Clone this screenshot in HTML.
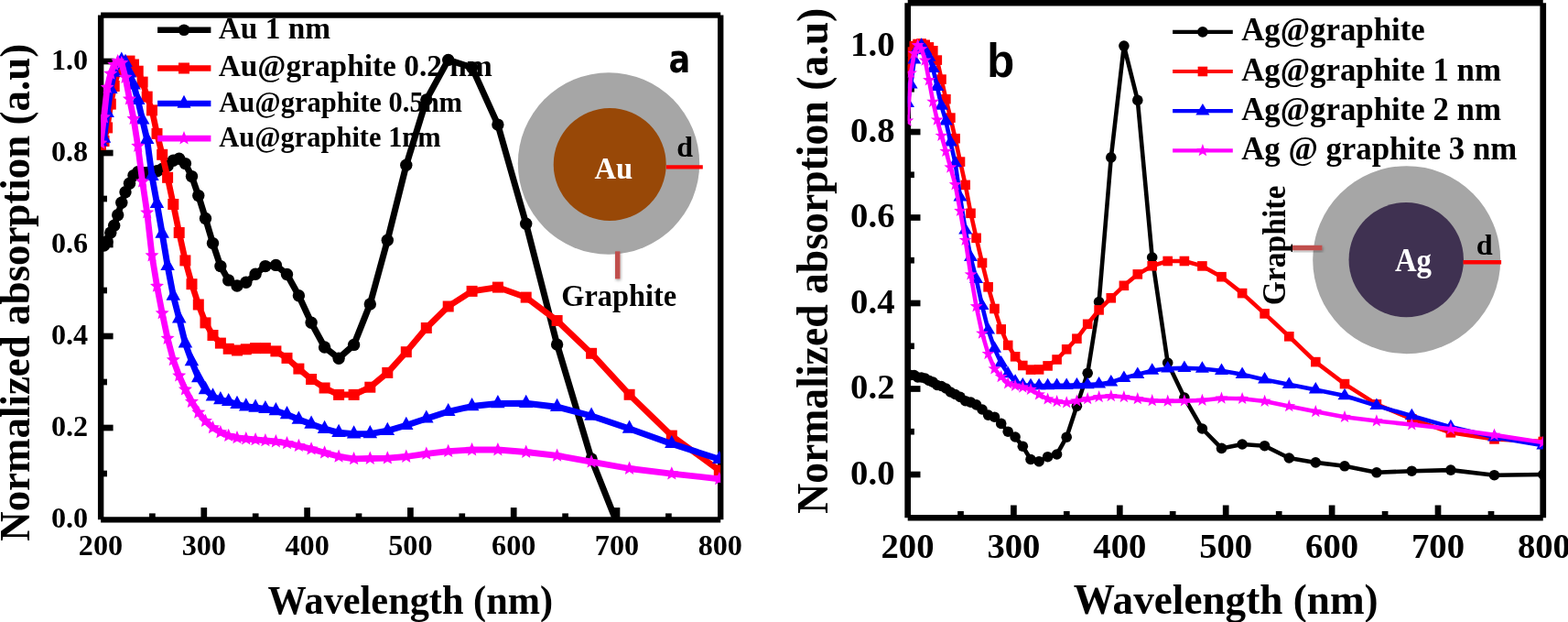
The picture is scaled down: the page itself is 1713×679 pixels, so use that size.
<!DOCTYPE html>
<html><head><meta charset="utf-8"><title>Absorption spectra</title>
<style>html,body{margin:0;padding:0;background:#fff;overflow:hidden}svg{display:block}</style></head>
<body><svg width="1713" height="679" viewBox="0 0 1713 679">
<rect width="1713" height="679" fill="#fff"/>
<clipPath id="ca"><rect x="110.15" y="16.6" width="677.0500000000001" height="550.75"/></clipPath>
<clipPath id="cb"><rect x="991.7" y="3.25" width="694.05" height="562.0"/></clipPath>
<circle cx="665" cy="178.5" r="99.2" fill="#A6A6A6"/>
<circle cx="666.2" cy="179.5" r="61.5" fill="#984807"/>
<line x1="727.8" y1="182.4" x2="767.8" y2="182.4" stroke="#FF0000" stroke-width="4.3"/>
<filter id="sh" x="-50%" y="-50%" width="200%" height="200%"><feDropShadow dx="0.8" dy="1.6" stdDeviation="1.4" flood-color="#000" flood-opacity="0.35"/></filter>
<rect x="672.0" y="274.4" width="5.4" height="30" fill="#C0504D" filter="url(#sh)"/>
<text transform="translate(649.46,194.60) scale(0.9550,1)" font-family="'Liberation Serif','Times New Roman',serif" font-weight="bold" font-size="34.2" fill="#fff" text-anchor="start">Au</text>
<text transform="translate(739.20,170.60)" font-family="'Liberation Serif','Times New Roman',serif" font-weight="bold" font-size="32" fill="#000" text-anchor="start">d</text>
<text transform="translate(613.20,333.90) scale(0.9480,1)" font-family="'Liberation Serif','Times New Roman',serif" font-weight="bold" font-size="34.2" fill="#000" text-anchor="start">Graphite</text>
<text transform="translate(730.40,79.00) scale(0.8260,1)" font-family="'DejaVu Sans',sans-serif" font-weight="bold" font-size="42.6" fill="#000" text-anchor="start">a</text>
<circle cx="1536.7" cy="283.65" r="102.5" fill="#A6A6A6"/>
<circle cx="1536.25" cy="283.6" r="62.7" fill="#3F3151"/>
<line x1="1598.5" y1="286.2" x2="1640.1" y2="286.2" stroke="#FF0000" stroke-width="4.4"/>
<rect x="1410.5" y="267.8" width="33.9" height="5.4" fill="#C0504D" filter="url(#sh)"/>
<text transform="translate(1523.97,296.00) scale(0.9100,1)" font-family="'Liberation Serif','Times New Roman',serif" font-weight="bold" font-size="36" fill="#fff" text-anchor="start">Ag</text>
<text transform="translate(1612.70,278.40)" font-family="'Liberation Serif','Times New Roman',serif" font-weight="bold" font-size="32.3" fill="#000" text-anchor="start">d</text>
<text transform="translate(1403.80,333.20) rotate(-90) scale(0.9460,1)" font-family="'Liberation Serif','Times New Roman',serif" font-weight="bold" font-size="35.5" fill="#000" text-anchor="start">Graphite</text>
<text transform="translate(1078.20,83.60) scale(0.9400,1)" font-family="'Liberation Sans',Arial,sans-serif" font-weight="bold" font-size="52.2" fill="#000" text-anchor="start">b</text>
<path d="M110.15,16.6H787.2M110.15,567.35H787.2M110.15,16.6V567.35M787.2,16.6V567.35" fill="none" stroke="#000" stroke-width="6.4" stroke-linecap="butt"/><path d="M991.7,3.25H1685.75M991.7,565.25H1685.75M991.7,3.25V565.25M1685.75,3.25V565.25" fill="none" stroke="#000" stroke-width="6.7" stroke-linecap="butt"/><line x1="166.4" y1="567.35" x2="166.4" y2="560.4" stroke="#000" stroke-width="6.7"/><line x1="1049.5" y1="565.25" x2="1049.5" y2="558.0" stroke="#000" stroke-width="6.7"/><line x1="222.8" y1="567.35" x2="222.8" y2="554.1" stroke="#000" stroke-width="6.7"/><line x1="1107.4" y1="565.25" x2="1107.4" y2="551.5" stroke="#000" stroke-width="6.7"/><line x1="279.2" y1="567.35" x2="279.2" y2="560.4" stroke="#000" stroke-width="6.7"/><line x1="1165.3" y1="565.25" x2="1165.3" y2="558.0" stroke="#000" stroke-width="6.7"/><line x1="335.6" y1="567.35" x2="335.6" y2="554.1" stroke="#000" stroke-width="6.7"/><line x1="1223.3" y1="565.25" x2="1223.3" y2="551.5" stroke="#000" stroke-width="6.7"/><line x1="392.0" y1="567.35" x2="392.0" y2="560.4" stroke="#000" stroke-width="6.7"/><line x1="1281.2" y1="565.25" x2="1281.2" y2="558.0" stroke="#000" stroke-width="6.7"/><line x1="448.4" y1="567.35" x2="448.4" y2="554.1" stroke="#000" stroke-width="6.7"/><line x1="1339.2" y1="565.25" x2="1339.2" y2="551.5" stroke="#000" stroke-width="6.7"/><line x1="504.8" y1="567.35" x2="504.8" y2="560.4" stroke="#000" stroke-width="6.7"/><line x1="1397.2" y1="565.25" x2="1397.2" y2="558.0" stroke="#000" stroke-width="6.7"/><line x1="561.2" y1="567.35" x2="561.2" y2="554.1" stroke="#000" stroke-width="6.7"/><line x1="1455.1" y1="565.25" x2="1455.1" y2="551.5" stroke="#000" stroke-width="6.7"/><line x1="617.6" y1="567.35" x2="617.6" y2="560.4" stroke="#000" stroke-width="6.7"/><line x1="1513.1" y1="565.25" x2="1513.1" y2="558.0" stroke="#000" stroke-width="6.7"/><line x1="674.0" y1="567.35" x2="674.0" y2="554.1" stroke="#000" stroke-width="6.7"/><line x1="1571.0" y1="565.25" x2="1571.0" y2="551.5" stroke="#000" stroke-width="6.7"/><line x1="730.4" y1="567.35" x2="730.4" y2="560.4" stroke="#000" stroke-width="6.7"/><line x1="1629.0" y1="565.25" x2="1629.0" y2="558.0" stroke="#000" stroke-width="6.7"/><line x1="991.7" y1="518.0" x2="1005.5" y2="518.0" stroke="#000" stroke-width="6.7"/><line x1="110.15" y1="517.0" x2="117.0" y2="517.0" stroke="#000" stroke-width="6.7"/><line x1="991.7" y1="471.2" x2="998.9" y2="471.2" stroke="#000" stroke-width="6.7"/><line x1="110.15" y1="467.0" x2="123.6" y2="467.0" stroke="#000" stroke-width="6.7"/><line x1="991.7" y1="424.5" x2="1005.5" y2="424.5" stroke="#000" stroke-width="6.7"/><line x1="110.15" y1="417.0" x2="117.0" y2="417.0" stroke="#000" stroke-width="6.7"/><line x1="991.7" y1="377.8" x2="998.9" y2="377.8" stroke="#000" stroke-width="6.7"/><line x1="110.15" y1="367.0" x2="123.6" y2="367.0" stroke="#000" stroke-width="6.7"/><line x1="991.7" y1="331.0" x2="1005.5" y2="331.0" stroke="#000" stroke-width="6.7"/><line x1="110.15" y1="317.0" x2="117.0" y2="317.0" stroke="#000" stroke-width="6.7"/><line x1="991.7" y1="284.2" x2="998.9" y2="284.2" stroke="#000" stroke-width="6.7"/><line x1="110.15" y1="267.0" x2="123.6" y2="267.0" stroke="#000" stroke-width="6.7"/><line x1="991.7" y1="237.5" x2="1005.5" y2="237.5" stroke="#000" stroke-width="6.7"/><line x1="110.15" y1="217.0" x2="117.0" y2="217.0" stroke="#000" stroke-width="6.7"/><line x1="991.7" y1="190.8" x2="998.9" y2="190.8" stroke="#000" stroke-width="6.7"/><line x1="110.15" y1="167.0" x2="123.6" y2="167.0" stroke="#000" stroke-width="6.7"/><line x1="991.7" y1="144.0" x2="1005.5" y2="144.0" stroke="#000" stroke-width="6.7"/><line x1="110.15" y1="117.0" x2="117.0" y2="117.0" stroke="#000" stroke-width="6.7"/><line x1="991.7" y1="97.2" x2="998.9" y2="97.2" stroke="#000" stroke-width="6.7"/><line x1="110.15" y1="67.0" x2="123.6" y2="67.0" stroke="#000" stroke-width="6.7"/><line x1="991.7" y1="50.5" x2="1005.5" y2="50.5" stroke="#000" stroke-width="6.7"/>
<g clip-path="url(#ca)"><polyline points="110.0,268.0 113.5,268.0 117.1,263.4 120.8,253.9 124.7,246.2 128.7,234.7 132.8,221.3 137.0,209.8 141.5,200.2 146.0,191.6 150.7,187.8 155.6,188.5 160.7,188.5 166.0,188.5 171.5,186.8 177.2,184.5 183.1,181.1 189.3,175.3 195.7,173.2 202.4,178.6 209.5,192.6 216.8,213.6 224.5,238.5 232.5,265.6 240.9,290.6 249.7,305.9 259.0,312.0 268.8,308.3 279.1,299.3 289.9,290.6 301.4,289.4 313.5,299.5 326.4,322.8 340.1,352.3 354.6,379.0 370.1,391.2 386.6,376.4 404.3,331.9 423.3,262.3 443.8,180.3 465.8,108.9 489.7,65.4 515.6,73.6 543.9,136.1 574.7,244.3 608.6,376.1 646.1,501.0 687.6,605.0 733.8,690.7 785.8,726.0" fill="none" stroke="#000000" stroke-width="7.0" stroke-linejoin="round" stroke-linecap="butt"/><g fill="#000000"><circle cx="110.0" cy="268.0" r="6.7"/><circle cx="113.5" cy="268.0" r="6.7"/><circle cx="117.1" cy="263.4" r="6.7"/><circle cx="120.8" cy="253.9" r="6.7"/><circle cx="124.7" cy="246.2" r="6.7"/><circle cx="128.7" cy="234.7" r="6.7"/><circle cx="132.8" cy="221.3" r="6.7"/><circle cx="137.0" cy="209.8" r="6.7"/><circle cx="141.5" cy="200.2" r="6.7"/><circle cx="146.0" cy="191.6" r="6.7"/><circle cx="150.7" cy="187.8" r="6.7"/><circle cx="155.6" cy="188.5" r="6.7"/><circle cx="160.7" cy="188.5" r="6.7"/><circle cx="166.0" cy="188.5" r="6.7"/><circle cx="171.5" cy="186.8" r="6.7"/><circle cx="177.2" cy="184.5" r="6.7"/><circle cx="183.1" cy="181.1" r="6.7"/><circle cx="189.3" cy="175.3" r="6.7"/><circle cx="195.7" cy="173.2" r="6.7"/><circle cx="202.4" cy="178.6" r="6.7"/><circle cx="209.5" cy="192.6" r="6.7"/><circle cx="216.8" cy="213.6" r="6.7"/><circle cx="224.5" cy="238.5" r="6.7"/><circle cx="232.5" cy="265.6" r="6.7"/><circle cx="240.9" cy="290.6" r="6.7"/><circle cx="249.7" cy="305.9" r="6.7"/><circle cx="259.0" cy="312.0" r="6.7"/><circle cx="268.8" cy="308.3" r="6.7"/><circle cx="279.1" cy="299.3" r="6.7"/><circle cx="289.9" cy="290.6" r="6.7"/><circle cx="301.4" cy="289.4" r="6.7"/><circle cx="313.5" cy="299.5" r="6.7"/><circle cx="326.4" cy="322.8" r="6.7"/><circle cx="340.1" cy="352.3" r="6.7"/><circle cx="354.6" cy="379.0" r="6.7"/><circle cx="370.1" cy="391.2" r="6.7"/><circle cx="386.6" cy="376.4" r="6.7"/><circle cx="404.3" cy="331.9" r="6.7"/><circle cx="423.3" cy="262.3" r="6.7"/><circle cx="443.8" cy="180.3" r="6.7"/><circle cx="465.8" cy="108.9" r="6.7"/><circle cx="489.7" cy="65.4" r="6.7"/><circle cx="515.6" cy="73.6" r="6.7"/><circle cx="543.9" cy="136.1" r="6.7"/><circle cx="574.7" cy="244.3" r="6.7"/><circle cx="608.6" cy="376.1" r="6.7"/><circle cx="646.1" cy="501.0" r="6.7"/><circle cx="687.6" cy="605.0" r="6.7"/><circle cx="733.8" cy="690.7" r="6.7"/><circle cx="785.8" cy="726.0" r="6.7"/></g><polyline points="110.0,158.0 113.5,154.0 117.1,139.4 120.8,113.6 124.7,94.0 128.7,78.1 132.8,70.2 137.0,67.0 141.5,66.6 146.0,70.5 150.7,77.7 155.6,89.6 160.7,105.6 166.0,120.4 171.5,145.9 177.2,168.8 183.1,193.8 189.3,223.0 195.7,254.0 202.4,284.4 209.5,310.2 216.8,332.5 224.5,352.4 232.5,366.0 240.9,374.6 249.7,380.8 259.0,382.5 268.8,381.3 279.1,380.1 289.9,380.1 301.4,383.4 313.5,390.9 326.4,402.6 340.1,414.0 354.6,423.5 370.1,430.9 386.6,430.9 404.3,422.7 423.3,406.9 443.8,384.2 465.8,358.0 489.7,334.5 515.6,317.9 543.9,313.6 574.7,324.6 608.6,350.0 646.1,385.8 687.6,430.8 733.8,475.6 785.8,513.5" fill="none" stroke="#FF0000" stroke-width="6.7" stroke-linejoin="round" stroke-linecap="butt"/><g fill="#FF0000"><rect x="104.0" y="152.0" width="12.0" height="12.0"/><rect x="107.5" y="148.0" width="12.0" height="12.0"/><rect x="111.1" y="133.4" width="12.0" height="12.0"/><rect x="114.8" y="107.6" width="12.0" height="12.0"/><rect x="118.7" y="88.0" width="12.0" height="12.0"/><rect x="122.7" y="72.1" width="12.0" height="12.0"/><rect x="126.8" y="64.2" width="12.0" height="12.0"/><rect x="131.0" y="61.0" width="12.0" height="12.0"/><rect x="135.5" y="60.6" width="12.0" height="12.0"/><rect x="140.0" y="64.5" width="12.0" height="12.0"/><rect x="144.7" y="71.7" width="12.0" height="12.0"/><rect x="149.6" y="83.6" width="12.0" height="12.0"/><rect x="154.7" y="99.6" width="12.0" height="12.0"/><rect x="160.0" y="114.4" width="12.0" height="12.0"/><rect x="165.5" y="139.9" width="12.0" height="12.0"/><rect x="171.2" y="162.8" width="12.0" height="12.0"/><rect x="177.1" y="187.8" width="12.0" height="12.0"/><rect x="183.3" y="217.0" width="12.0" height="12.0"/><rect x="189.7" y="248.0" width="12.0" height="12.0"/><rect x="196.4" y="278.4" width="12.0" height="12.0"/><rect x="203.5" y="304.2" width="12.0" height="12.0"/><rect x="210.8" y="326.5" width="12.0" height="12.0"/><rect x="218.5" y="346.4" width="12.0" height="12.0"/><rect x="226.5" y="360.0" width="12.0" height="12.0"/><rect x="234.9" y="368.6" width="12.0" height="12.0"/><rect x="243.7" y="374.8" width="12.0" height="12.0"/><rect x="253.0" y="376.5" width="12.0" height="12.0"/><rect x="262.8" y="375.3" width="12.0" height="12.0"/><rect x="273.1" y="374.1" width="12.0" height="12.0"/><rect x="283.9" y="374.1" width="12.0" height="12.0"/><rect x="295.4" y="377.4" width="12.0" height="12.0"/><rect x="307.5" y="384.9" width="12.0" height="12.0"/><rect x="320.4" y="396.6" width="12.0" height="12.0"/><rect x="334.1" y="408.0" width="12.0" height="12.0"/><rect x="348.6" y="417.5" width="12.0" height="12.0"/><rect x="364.1" y="424.9" width="12.0" height="12.0"/><rect x="380.6" y="424.9" width="12.0" height="12.0"/><rect x="398.3" y="416.7" width="12.0" height="12.0"/><rect x="417.3" y="400.9" width="12.0" height="12.0"/><rect x="437.8" y="378.2" width="12.0" height="12.0"/><rect x="459.8" y="352.0" width="12.0" height="12.0"/><rect x="483.7" y="328.5" width="12.0" height="12.0"/><rect x="509.6" y="311.9" width="12.0" height="12.0"/><rect x="537.9" y="307.6" width="12.0" height="12.0"/><rect x="568.7" y="318.6" width="12.0" height="12.0"/><rect x="602.6" y="344.0" width="12.0" height="12.0"/><rect x="640.1" y="379.8" width="12.0" height="12.0"/><rect x="681.6" y="424.8" width="12.0" height="12.0"/><rect x="727.8" y="469.6" width="12.0" height="12.0"/><rect x="779.8" y="507.5" width="12.0" height="12.0"/></g><polyline points="110.0,154.8 113.5,151.0 117.1,123.3 120.8,97.2 124.7,79.0 128.7,70.0 132.8,66.0 137.0,68.3 141.5,79.9 146.0,92.8 150.7,109.4 155.6,130.9 160.7,152.4 166.0,192.3 171.5,222.4 177.2,255.1 183.1,290.4 189.3,322.9 195.7,347.6 202.4,374.8 209.5,394.6 216.8,412.5 224.5,425.5 232.5,432.7 240.9,436.6 249.7,438.4 259.0,441.3 268.8,443.8 279.1,445.0 289.9,446.4 301.4,448.5 313.5,452.5 326.4,457.9 340.1,463.1 354.6,468.2 370.1,472.3 386.6,473.8 404.3,473.6 423.3,470.2 443.8,464.2 465.8,456.9 489.7,449.3 515.6,443.5 543.9,440.5 574.7,440.3 608.6,444.2 646.1,454.0 687.6,468.1 733.8,484.4 785.8,501.3" fill="none" stroke="#0000FF" stroke-width="6.9" stroke-linejoin="round" stroke-linecap="butt"/><g fill="#0000FF"><path d="M110.0,145.3 L117.7,159.5 L102.2,159.5Z"/><path d="M113.5,141.6 L121.2,155.8 L105.7,155.8Z"/><path d="M117.1,113.9 L124.9,128.1 L109.4,128.1Z"/><path d="M120.8,87.7 L128.6,101.9 L113.1,101.9Z"/><path d="M124.7,69.6 L132.4,83.8 L116.9,83.8Z"/><path d="M128.7,60.5 L136.4,74.7 L120.9,74.7Z"/><path d="M132.8,56.5 L140.5,70.7 L125.0,70.7Z"/><path d="M137.0,58.8 L144.8,73.0 L129.3,73.0Z"/><path d="M141.5,70.4 L149.2,84.6 L133.7,84.6Z"/><path d="M146.0,83.4 L153.8,97.6 L138.3,97.6Z"/><path d="M150.7,99.9 L158.5,114.1 L143.0,114.1Z"/><path d="M155.6,121.4 L163.4,135.6 L147.9,135.6Z"/><path d="M160.7,142.9 L168.5,157.1 L153.0,157.1Z"/><path d="M166.0,182.8 L173.7,197.0 L158.2,197.0Z"/><path d="M171.5,212.9 L179.2,227.1 L163.7,227.1Z"/><path d="M177.2,245.6 L184.9,259.8 L169.4,259.8Z"/><path d="M183.1,280.9 L190.9,295.1 L175.4,295.1Z"/><path d="M189.3,313.5 L197.0,327.7 L181.5,327.7Z"/><path d="M195.7,338.2 L203.5,352.4 L188.0,352.4Z"/><path d="M202.4,365.3 L210.2,379.5 L194.7,379.5Z"/><path d="M209.5,385.1 L217.2,399.3 L201.7,399.3Z"/><path d="M216.8,403.0 L224.5,417.2 L209.0,417.2Z"/><path d="M224.5,416.1 L232.2,430.3 L216.7,430.3Z"/><path d="M232.5,423.3 L240.2,437.5 L224.7,437.5Z"/><path d="M240.9,427.1 L248.6,441.3 L233.1,441.3Z"/><path d="M249.7,428.9 L257.5,443.1 L242.0,443.1Z"/><path d="M259.0,431.8 L266.8,446.0 L251.3,446.0Z"/><path d="M268.8,434.3 L276.5,448.5 L261.0,448.5Z"/><path d="M279.1,435.6 L286.8,449.8 L271.3,449.8Z"/><path d="M289.9,436.9 L297.7,451.1 L282.2,451.1Z"/><path d="M301.4,439.0 L309.1,453.2 L293.6,453.2Z"/><path d="M313.5,443.0 L321.3,457.2 L305.8,457.2Z"/><path d="M326.4,448.5 L334.1,462.7 L318.6,462.7Z"/><path d="M340.1,453.6 L347.8,467.8 L332.3,467.8Z"/><path d="M354.6,458.7 L362.3,472.9 L346.8,472.9Z"/><path d="M370.1,462.8 L377.8,477.0 L362.3,477.0Z"/><path d="M386.6,464.3 L394.4,478.5 L378.9,478.5Z"/><path d="M404.3,464.1 L412.1,478.3 L396.6,478.3Z"/><path d="M423.3,460.7 L431.1,474.9 L415.6,474.9Z"/><path d="M443.8,454.8 L451.5,469.0 L436.0,469.0Z"/><path d="M465.8,447.4 L473.6,461.6 L458.1,461.6Z"/><path d="M489.7,439.9 L497.5,454.1 L482.0,454.1Z"/><path d="M515.6,434.1 L523.4,448.3 L507.9,448.3Z"/><path d="M543.9,431.0 L551.6,445.2 L536.1,445.2Z"/><path d="M574.7,430.8 L582.5,445.0 L567.0,445.0Z"/><path d="M608.6,434.8 L616.4,449.0 L600.9,449.0Z"/><path d="M646.1,444.6 L653.8,458.8 L638.3,458.8Z"/><path d="M687.6,458.6 L695.3,472.8 L679.8,472.8Z"/><path d="M733.8,474.9 L741.6,489.1 L726.1,489.1Z"/><path d="M785.8,491.9 L793.5,506.1 L778.0,506.1Z"/></g><polyline points="110.0,156.2 113.5,128.0 117.1,95.5 120.8,80.4 124.7,70.7 128.7,67.0 132.8,68.6 137.0,84.5 141.5,108.2 146.0,129.7 150.7,159.5 155.6,198.3 160.7,232.2 166.0,279.0 171.5,312.3 177.2,341.8 183.1,369.5 189.3,392.9 195.7,410.2 202.4,425.1 209.5,438.6 216.8,450.3 224.5,459.7 232.5,466.9 240.9,471.9 249.7,475.7 259.0,477.9 268.8,479.0 279.1,479.9 289.9,480.8 301.4,482.0 313.5,483.8 326.4,486.7 340.1,490.1 354.6,494.2 370.1,498.3 386.6,500.8 404.3,500.5 423.3,500.2 443.8,498.5 465.8,495.4 489.7,492.7 515.6,491.0 543.9,491.0 574.7,493.5 608.6,497.4 646.1,504.2 687.6,511.5 733.8,517.1 785.8,522.8" fill="none" stroke="#FF00FF" stroke-width="6.8" stroke-linejoin="round" stroke-linecap="butt"/><g fill="#FF00FF"><path d="M110.0,148.3 L112.1,153.3 L117.5,153.8 L113.4,157.3 L114.6,162.6 L110.0,159.8 L105.3,162.6 L106.6,157.3 L102.5,153.8 L107.9,153.3Z"/><path d="M113.5,120.1 L115.6,125.1 L121.0,125.6 L116.9,129.1 L118.1,134.4 L113.5,131.6 L108.8,134.4 L110.1,129.1 L106.0,125.6 L111.4,125.1Z"/><path d="M117.1,87.6 L119.2,92.5 L124.6,93.0 L120.5,96.6 L121.8,101.8 L117.1,99.1 L112.5,101.8 L113.7,96.6 L109.6,93.0 L115.0,92.5Z"/><path d="M120.8,72.5 L123.0,77.5 L128.4,78.0 L124.3,81.5 L125.5,86.8 L120.8,84.0 L116.2,86.8 L117.4,81.5 L113.3,78.0 L118.7,77.5Z"/><path d="M124.7,62.8 L126.8,67.8 L132.2,68.3 L128.1,71.8 L129.3,77.1 L124.7,74.3 L120.0,77.1 L121.3,71.8 L117.2,68.3 L122.6,67.8Z"/><path d="M128.7,59.1 L130.8,64.1 L136.2,64.6 L132.1,68.1 L133.3,73.4 L128.7,70.6 L124.0,73.4 L125.2,68.1 L121.2,64.6 L126.6,64.1Z"/><path d="M132.8,60.7 L134.9,65.7 L140.3,66.2 L136.2,69.7 L137.4,75.0 L132.8,72.2 L128.1,75.0 L129.4,69.7 L125.3,66.2 L130.7,65.7Z"/><path d="M137.0,76.6 L139.2,81.6 L144.6,82.0 L140.5,85.6 L141.7,90.9 L137.0,88.1 L132.4,90.9 L133.6,85.6 L129.5,82.0 L134.9,81.6Z"/><path d="M141.5,100.3 L143.6,105.3 L149.0,105.8 L144.9,109.3 L146.1,114.6 L141.5,111.8 L136.8,114.6 L138.0,109.3 L133.9,105.8 L139.3,105.3Z"/><path d="M146.0,121.8 L148.1,126.8 L153.5,127.3 L149.4,130.9 L150.7,136.1 L146.0,133.3 L141.4,136.1 L142.6,130.9 L138.5,127.3 L143.9,126.8Z"/><path d="M150.7,151.6 L152.9,156.6 L158.3,157.0 L154.2,160.6 L155.4,165.9 L150.7,163.1 L146.1,165.9 L147.3,160.6 L143.2,157.0 L148.6,156.6Z"/><path d="M155.6,190.4 L157.8,195.3 L163.2,195.8 L159.1,199.4 L160.3,204.6 L155.6,201.9 L151.0,204.6 L152.2,199.4 L148.1,195.8 L153.5,195.3Z"/><path d="M160.7,224.3 L162.8,229.3 L168.2,229.8 L164.1,233.3 L165.4,238.6 L160.7,235.8 L156.1,238.6 L157.3,233.3 L153.2,229.8 L158.6,229.3Z"/><path d="M166.0,271.1 L168.1,276.1 L173.5,276.5 L169.4,280.1 L170.6,285.4 L166.0,282.6 L161.4,285.4 L162.6,280.1 L158.5,276.5 L163.9,276.1Z"/><path d="M171.5,304.4 L173.6,309.4 L179.0,309.9 L174.9,313.4 L176.1,318.7 L171.5,315.9 L166.8,318.7 L168.1,313.4 L164.0,309.9 L169.4,309.4Z"/><path d="M177.2,333.9 L179.3,338.9 L184.7,339.4 L180.6,342.9 L181.8,348.2 L177.2,345.4 L172.5,348.2 L173.8,342.9 L169.7,339.4 L175.1,338.9Z"/><path d="M183.1,361.6 L185.2,366.6 L190.6,367.1 L186.5,370.6 L187.8,375.9 L183.1,373.1 L178.5,375.9 L179.7,370.6 L175.6,367.1 L181.0,366.6Z"/><path d="M189.3,385.0 L191.4,390.0 L196.8,390.4 L192.7,394.0 L193.9,399.3 L189.3,396.5 L184.6,399.3 L185.9,394.0 L181.8,390.4 L187.2,390.0Z"/><path d="M195.7,402.3 L197.8,407.3 L203.2,407.8 L199.2,411.3 L200.4,416.6 L195.7,413.8 L191.1,416.6 L192.3,411.3 L188.2,407.8 L193.6,407.3Z"/><path d="M202.4,417.2 L204.6,422.2 L210.0,422.7 L205.9,426.2 L207.1,431.5 L202.4,428.7 L197.8,431.5 L199.0,426.2 L194.9,422.7 L200.3,422.2Z"/><path d="M209.5,430.7 L211.6,435.7 L217.0,436.1 L212.9,439.7 L214.1,445.0 L209.5,442.2 L204.8,445.0 L206.0,439.7 L201.9,436.1 L207.3,435.7Z"/><path d="M216.8,442.4 L218.9,447.4 L224.3,447.8 L220.2,451.4 L221.4,456.7 L216.8,453.9 L212.1,456.7 L213.4,451.4 L209.3,447.8 L214.7,447.4Z"/><path d="M224.5,451.8 L226.6,456.8 L232.0,457.3 L227.9,460.8 L229.1,466.1 L224.5,463.3 L219.8,466.1 L221.0,460.8 L216.9,457.3 L222.3,456.8Z"/><path d="M232.5,459.0 L234.6,463.9 L240.0,464.4 L235.9,468.0 L237.1,473.2 L232.5,470.5 L227.8,473.2 L229.1,468.0 L225.0,464.4 L230.4,463.9Z"/><path d="M240.9,464.0 L243.0,469.0 L248.4,469.5 L244.3,473.1 L245.5,478.3 L240.9,475.5 L236.3,478.3 L237.5,473.1 L233.4,469.5 L238.8,469.0Z"/><path d="M249.7,467.8 L251.8,472.7 L257.2,473.2 L253.2,476.8 L254.4,482.0 L249.7,479.3 L245.1,482.0 L246.3,476.8 L242.2,473.2 L247.6,472.7Z"/><path d="M259.0,470.0 L261.1,475.0 L266.5,475.5 L262.4,479.0 L263.7,484.3 L259.0,481.5 L254.4,484.3 L255.6,479.0 L251.5,475.5 L256.9,475.0Z"/><path d="M268.8,471.1 L270.9,476.1 L276.3,476.6 L272.2,480.1 L273.4,485.4 L268.8,482.6 L264.1,485.4 L265.4,480.1 L261.3,476.6 L266.7,476.1Z"/><path d="M279.1,472.0 L281.2,476.9 L286.6,477.4 L282.5,481.0 L283.7,486.3 L279.1,483.5 L274.4,486.3 L275.6,481.0 L271.6,477.4 L277.0,476.9Z"/><path d="M289.9,472.9 L292.0,477.9 L297.4,478.4 L293.3,481.9 L294.6,487.2 L289.9,484.4 L285.3,487.2 L286.5,481.9 L282.4,478.4 L287.8,477.9Z"/><path d="M301.4,474.1 L303.5,479.1 L308.9,479.5 L304.8,483.1 L306.0,488.4 L301.4,485.6 L296.7,488.4 L298.0,483.1 L293.9,479.5 L299.3,479.1Z"/><path d="M313.5,475.9 L315.6,480.9 L321.0,481.3 L317.0,484.9 L318.2,490.2 L313.5,487.4 L308.9,490.2 L310.1,484.9 L306.0,481.3 L311.4,480.9Z"/><path d="M326.4,478.8 L328.5,483.8 L333.9,484.2 L329.8,487.8 L331.0,493.1 L326.4,490.3 L321.7,493.1 L323.0,487.8 L318.9,484.2 L324.3,483.8Z"/><path d="M340.1,482.2 L342.2,487.2 L347.6,487.7 L343.5,491.2 L344.7,496.5 L340.1,493.7 L335.4,496.5 L336.6,491.2 L332.5,487.7 L337.9,487.2Z"/><path d="M354.6,486.3 L356.7,491.3 L362.1,491.8 L358.0,495.3 L359.2,500.6 L354.6,497.8 L349.9,500.6 L351.2,495.3 L347.1,491.8 L352.5,491.3Z"/><path d="M370.1,490.4 L372.2,495.4 L377.6,495.9 L373.5,499.4 L374.7,504.7 L370.1,501.9 L365.4,504.7 L366.6,499.4 L362.6,495.9 L368.0,495.4Z"/><path d="M386.6,492.9 L388.7,497.9 L394.1,498.4 L390.0,501.9 L391.3,507.2 L386.6,504.4 L382.0,507.2 L383.2,501.9 L379.1,498.4 L384.5,497.9Z"/><path d="M404.3,492.6 L406.4,497.6 L411.8,498.1 L407.7,501.6 L409.0,506.9 L404.3,504.1 L399.7,506.9 L400.9,501.6 L396.8,498.1 L402.2,497.6Z"/><path d="M423.3,492.3 L425.4,497.3 L430.8,497.8 L426.8,501.3 L428.0,506.6 L423.3,503.8 L418.7,506.6 L419.9,501.3 L415.8,497.8 L421.2,497.3Z"/><path d="M443.8,490.6 L445.9,495.6 L451.3,496.1 L447.2,499.6 L448.4,504.9 L443.8,502.1 L439.1,504.9 L440.4,499.6 L436.3,496.1 L441.7,495.6Z"/><path d="M465.8,487.5 L468.0,492.5 L473.4,493.0 L469.3,496.5 L470.5,501.8 L465.8,499.0 L461.2,501.8 L462.4,496.5 L458.3,493.0 L463.7,492.5Z"/><path d="M489.7,484.8 L491.8,489.8 L497.2,490.3 L493.1,493.8 L494.4,499.1 L489.7,496.3 L485.1,499.1 L486.3,493.8 L482.2,490.3 L487.6,489.8Z"/><path d="M515.6,483.1 L517.7,488.1 L523.1,488.6 L519.0,492.1 L520.3,497.4 L515.6,494.6 L511.0,497.4 L512.2,492.1 L508.1,488.6 L513.5,488.1Z"/><path d="M543.9,483.1 L546.0,488.1 L551.4,488.6 L547.3,492.1 L548.5,497.4 L543.9,494.6 L539.2,497.4 L540.4,492.1 L536.3,488.6 L541.7,488.1Z"/><path d="M574.7,485.6 L576.9,490.6 L582.2,491.0 L578.2,494.6 L579.4,499.9 L574.7,497.1 L570.1,499.9 L571.3,494.6 L567.2,491.0 L572.6,490.6Z"/><path d="M608.6,489.5 L610.8,494.5 L616.2,495.0 L612.1,498.6 L613.3,503.8 L608.6,501.0 L604.0,503.8 L605.2,498.6 L601.1,495.0 L606.5,494.5Z"/><path d="M646.1,496.3 L648.2,501.3 L653.6,501.8 L649.5,505.3 L650.7,510.6 L646.1,507.8 L641.4,510.6 L642.6,505.3 L638.5,501.8 L643.9,501.3Z"/><path d="M687.6,503.6 L689.7,508.6 L695.1,509.0 L691.0,512.6 L692.2,517.9 L687.6,515.1 L682.9,517.9 L684.1,512.6 L680.0,509.0 L685.4,508.6Z"/><path d="M733.8,509.2 L735.9,514.1 L741.3,514.6 L737.2,518.2 L738.5,523.4 L733.8,520.7 L729.2,523.4 L730.4,518.2 L726.3,514.6 L731.7,514.1Z"/><path d="M785.8,514.9 L787.9,519.9 L793.3,520.4 L789.2,523.9 L790.4,529.2 L785.8,526.4 L781.1,529.2 L782.3,523.9 L778.2,520.4 L783.6,519.9Z"/></g></g>
<g clip-path="url(#cb)"><polyline points="991.5,410.0 995.1,409.5 998.8,409.5 1002.6,412.0 1006.6,412.0 1010.7,413.0 1014.9,415.5 1019.3,417.1 1023.8,420.5 1028.5,421.5 1033.4,424.0 1038.4,428.0 1043.6,430.5 1049.0,433.4 1054.7,437.7 1060.5,439.1 1066.6,441.9 1073.0,447.0 1079.6,453.1 1086.5,455.2 1093.7,462.4 1101.2,471.2 1109.1,477.0 1117.3,487.2 1126.0,501.5 1135.1,503.7 1144.6,498.7 1154.6,496.0 1165.2,477.2 1176.4,443.3 1188.2,407.3 1200.6,329.5 1213.8,171.9 1227.9,50.1 1242.8,109.4 1258.7,281.0 1275.7,396.0 1293.9,434.1 1313.4,468.0 1334.5,489.4 1357.1,485.0 1381.6,486.7 1408.3,500.0 1437.3,504.9 1469.0,508.8 1503.9,515.8 1542.3,514.2 1584.9,513.1 1632.5,518.7 1685.8,518.0" fill="none" stroke="#000000" stroke-width="4.6" stroke-linejoin="round" stroke-linecap="butt"/><g fill="#000000"><circle cx="991.5" cy="410.0" r="5.8"/><circle cx="995.1" cy="409.5" r="5.8"/><circle cx="998.8" cy="409.5" r="5.8"/><circle cx="1002.6" cy="412.0" r="5.8"/><circle cx="1006.6" cy="412.0" r="5.8"/><circle cx="1010.7" cy="413.0" r="5.8"/><circle cx="1014.9" cy="415.5" r="5.8"/><circle cx="1019.3" cy="417.1" r="5.8"/><circle cx="1023.8" cy="420.5" r="5.8"/><circle cx="1028.5" cy="421.5" r="5.8"/><circle cx="1033.4" cy="424.0" r="5.8"/><circle cx="1038.4" cy="428.0" r="5.8"/><circle cx="1043.6" cy="430.5" r="5.8"/><circle cx="1049.0" cy="433.4" r="5.8"/><circle cx="1054.7" cy="437.7" r="5.8"/><circle cx="1060.5" cy="439.1" r="5.8"/><circle cx="1066.6" cy="441.9" r="5.8"/><circle cx="1073.0" cy="447.0" r="5.8"/><circle cx="1079.6" cy="453.1" r="5.8"/><circle cx="1086.5" cy="455.2" r="5.8"/><circle cx="1093.7" cy="462.4" r="5.8"/><circle cx="1101.2" cy="471.2" r="5.8"/><circle cx="1109.1" cy="477.0" r="5.8"/><circle cx="1117.3" cy="487.2" r="5.8"/><circle cx="1126.0" cy="501.5" r="5.8"/><circle cx="1135.1" cy="503.7" r="5.8"/><circle cx="1144.6" cy="498.7" r="5.8"/><circle cx="1154.6" cy="496.0" r="5.8"/><circle cx="1165.2" cy="477.2" r="5.8"/><circle cx="1176.4" cy="443.3" r="5.8"/><circle cx="1188.2" cy="407.3" r="5.8"/><circle cx="1200.6" cy="329.5" r="5.8"/><circle cx="1213.8" cy="171.9" r="5.8"/><circle cx="1227.9" cy="50.1" r="5.8"/><circle cx="1242.8" cy="109.4" r="5.8"/><circle cx="1258.7" cy="281.0" r="5.8"/><circle cx="1275.7" cy="396.0" r="5.8"/><circle cx="1293.9" cy="434.1" r="5.8"/><circle cx="1313.4" cy="468.0" r="5.8"/><circle cx="1334.5" cy="489.4" r="5.8"/><circle cx="1357.1" cy="485.0" r="5.8"/><circle cx="1381.6" cy="486.7" r="5.8"/><circle cx="1408.3" cy="500.0" r="5.8"/><circle cx="1437.3" cy="504.9" r="5.8"/><circle cx="1469.0" cy="508.8" r="5.8"/><circle cx="1503.9" cy="515.8" r="5.8"/><circle cx="1542.3" cy="514.2" r="5.8"/><circle cx="1584.9" cy="513.1" r="5.8"/><circle cx="1632.5" cy="518.7" r="5.8"/><circle cx="1685.8" cy="518.0" r="5.8"/></g><polyline points="991.5,76.5 995.1,56.6 998.8,50.1 1002.6,48.0 1006.6,47.5 1010.7,48.8 1014.9,51.4 1019.3,55.3 1023.8,65.6 1028.5,86.6 1033.4,108.2 1038.4,128.6 1043.6,151.2 1049.0,176.6 1054.7,201.9 1060.5,232.8 1066.6,259.8 1073.0,287.0 1079.6,313.3 1086.5,337.0 1093.7,359.4 1101.2,376.9 1109.1,389.3 1117.3,399.0 1126.0,403.6 1135.1,403.4 1144.6,399.4 1154.6,392.5 1165.2,381.3 1176.4,369.7 1188.2,353.8 1200.6,338.4 1213.8,325.3 1227.9,311.8 1242.8,299.4 1258.7,290.3 1275.7,285.0 1293.9,285.0 1313.4,290.4 1334.5,302.2 1357.1,320.1 1381.6,342.4 1408.3,367.3 1437.3,395.1 1469.0,419.1 1503.9,441.4 1542.3,457.3 1584.9,472.3 1632.5,479.4 1685.8,482.0" fill="none" stroke="#FF0000" stroke-width="4.6" stroke-linejoin="round" stroke-linecap="butt"/><g fill="#FF0000"><rect x="986.2" y="71.2" width="10.6" height="10.6"/><rect x="989.8" y="51.3" width="10.6" height="10.6"/><rect x="993.5" y="44.8" width="10.6" height="10.6"/><rect x="997.3" y="42.7" width="10.6" height="10.6"/><rect x="1001.3" y="42.2" width="10.6" height="10.6"/><rect x="1005.4" y="43.5" width="10.6" height="10.6"/><rect x="1009.6" y="46.1" width="10.6" height="10.6"/><rect x="1014.0" y="50.0" width="10.6" height="10.6"/><rect x="1018.5" y="60.3" width="10.6" height="10.6"/><rect x="1023.2" y="81.3" width="10.6" height="10.6"/><rect x="1028.1" y="102.9" width="10.6" height="10.6"/><rect x="1033.1" y="123.3" width="10.6" height="10.6"/><rect x="1038.3" y="145.9" width="10.6" height="10.6"/><rect x="1043.7" y="171.3" width="10.6" height="10.6"/><rect x="1049.4" y="196.6" width="10.6" height="10.6"/><rect x="1055.2" y="227.5" width="10.6" height="10.6"/><rect x="1061.3" y="254.5" width="10.6" height="10.6"/><rect x="1067.7" y="281.7" width="10.6" height="10.6"/><rect x="1074.3" y="308.0" width="10.6" height="10.6"/><rect x="1081.2" y="331.7" width="10.6" height="10.6"/><rect x="1088.4" y="354.1" width="10.6" height="10.6"/><rect x="1095.9" y="371.6" width="10.6" height="10.6"/><rect x="1103.8" y="384.0" width="10.6" height="10.6"/><rect x="1112.0" y="393.7" width="10.6" height="10.6"/><rect x="1120.7" y="398.3" width="10.6" height="10.6"/><rect x="1129.8" y="398.1" width="10.6" height="10.6"/><rect x="1139.3" y="394.1" width="10.6" height="10.6"/><rect x="1149.3" y="387.2" width="10.6" height="10.6"/><rect x="1159.9" y="376.0" width="10.6" height="10.6"/><rect x="1171.1" y="364.4" width="10.6" height="10.6"/><rect x="1182.9" y="348.5" width="10.6" height="10.6"/><rect x="1195.3" y="333.1" width="10.6" height="10.6"/><rect x="1208.5" y="320.0" width="10.6" height="10.6"/><rect x="1222.6" y="306.5" width="10.6" height="10.6"/><rect x="1237.5" y="294.1" width="10.6" height="10.6"/><rect x="1253.4" y="285.0" width="10.6" height="10.6"/><rect x="1270.4" y="279.7" width="10.6" height="10.6"/><rect x="1288.6" y="279.7" width="10.6" height="10.6"/><rect x="1308.1" y="285.1" width="10.6" height="10.6"/><rect x="1329.2" y="296.9" width="10.6" height="10.6"/><rect x="1351.8" y="314.8" width="10.6" height="10.6"/><rect x="1376.3" y="337.1" width="10.6" height="10.6"/><rect x="1403.0" y="362.0" width="10.6" height="10.6"/><rect x="1432.0" y="389.8" width="10.6" height="10.6"/><rect x="1463.7" y="413.8" width="10.6" height="10.6"/><rect x="1498.6" y="436.1" width="10.6" height="10.6"/><rect x="1537.0" y="452.0" width="10.6" height="10.6"/><rect x="1579.6" y="467.0" width="10.6" height="10.6"/><rect x="1627.2" y="474.1" width="10.6" height="10.6"/><rect x="1680.5" y="476.7" width="10.6" height="10.6"/></g><polyline points="991.5,112.9 995.1,92.2 998.8,65.4 1002.6,52.9 1006.6,49.6 1010.7,55.0 1014.9,62.7 1019.3,74.9 1023.8,94.8 1028.5,115.6 1033.4,132.4 1038.4,155.2 1043.6,178.0 1049.0,215.4 1054.7,251.3 1060.5,281.0 1066.6,304.8 1073.0,333.9 1079.6,360.2 1086.5,380.5 1093.7,396.4 1101.2,408.1 1109.1,416.7 1117.3,420.2 1126.0,421.0 1135.1,421.0 1144.6,421.0 1154.6,420.9 1165.2,420.8 1176.4,420.4 1188.2,420.0 1200.6,419.4 1213.8,417.3 1227.9,412.8 1242.8,408.8 1258.7,404.6 1275.7,402.2 1293.9,401.9 1313.4,402.5 1334.5,404.8 1357.1,408.8 1381.6,414.4 1408.3,419.8 1437.3,425.4 1469.0,432.0 1503.9,442.9 1542.3,454.0 1584.9,466.1 1632.5,477.2 1685.8,486.2" fill="none" stroke="#0000FF" stroke-width="4.6" stroke-linejoin="round" stroke-linecap="butt"/><g fill="#0000FF"><path d="M991.5,104.5 L999.0,117.0 L984.0,117.0Z"/><path d="M995.1,83.9 L1002.6,96.4 L987.6,96.4Z"/><path d="M998.8,57.1 L1006.3,69.6 L991.3,69.6Z"/><path d="M1002.6,44.6 L1010.1,57.1 L995.1,57.1Z"/><path d="M1006.6,41.3 L1014.1,53.8 L999.1,53.8Z"/><path d="M1010.7,46.7 L1018.2,59.2 L1003.2,59.2Z"/><path d="M1014.9,54.3 L1022.4,66.8 L1007.4,66.8Z"/><path d="M1019.3,66.5 L1026.8,79.0 L1011.8,79.0Z"/><path d="M1023.8,86.5 L1031.3,99.0 L1016.3,99.0Z"/><path d="M1028.5,107.3 L1036.0,119.8 L1021.0,119.8Z"/><path d="M1033.4,124.1 L1040.9,136.6 L1025.9,136.6Z"/><path d="M1038.4,146.9 L1045.9,159.4 L1030.9,159.4Z"/><path d="M1043.6,169.7 L1051.1,182.2 L1036.1,182.2Z"/><path d="M1049.0,207.1 L1056.5,219.6 L1041.5,219.6Z"/><path d="M1054.7,243.0 L1062.2,255.5 L1047.2,255.5Z"/><path d="M1060.5,272.6 L1068.0,285.1 L1053.0,285.1Z"/><path d="M1066.6,296.4 L1074.1,308.9 L1059.1,308.9Z"/><path d="M1073.0,325.5 L1080.5,338.0 L1065.5,338.0Z"/><path d="M1079.6,351.9 L1087.1,364.4 L1072.1,364.4Z"/><path d="M1086.5,372.2 L1094.0,384.7 L1079.0,384.7Z"/><path d="M1093.7,388.1 L1101.2,400.6 L1086.2,400.6Z"/><path d="M1101.2,399.7 L1108.7,412.2 L1093.7,412.2Z"/><path d="M1109.1,408.3 L1116.6,420.8 L1101.6,420.8Z"/><path d="M1117.3,411.9 L1124.8,424.4 L1109.8,424.4Z"/><path d="M1126.0,412.7 L1133.5,425.2 L1118.5,425.2Z"/><path d="M1135.1,412.7 L1142.6,425.2 L1127.6,425.2Z"/><path d="M1144.6,412.7 L1152.1,425.2 L1137.1,425.2Z"/><path d="M1154.6,412.6 L1162.1,425.1 L1147.1,425.1Z"/><path d="M1165.2,412.5 L1172.7,425.0 L1157.7,425.0Z"/><path d="M1176.4,412.1 L1183.9,424.6 L1168.9,424.6Z"/><path d="M1188.2,411.7 L1195.7,424.2 L1180.7,424.2Z"/><path d="M1200.6,411.1 L1208.1,423.6 L1193.1,423.6Z"/><path d="M1213.8,409.0 L1221.3,421.5 L1206.3,421.5Z"/><path d="M1227.9,404.5 L1235.4,417.0 L1220.4,417.0Z"/><path d="M1242.8,400.4 L1250.3,412.9 L1235.3,412.9Z"/><path d="M1258.7,396.3 L1266.2,408.8 L1251.2,408.8Z"/><path d="M1275.7,393.9 L1283.2,406.4 L1268.2,406.4Z"/><path d="M1293.9,393.6 L1301.4,406.1 L1286.4,406.1Z"/><path d="M1313.4,394.2 L1320.9,406.7 L1305.9,406.7Z"/><path d="M1334.5,396.5 L1342.0,409.0 L1327.0,409.0Z"/><path d="M1357.1,400.4 L1364.6,412.9 L1349.6,412.9Z"/><path d="M1381.6,406.1 L1389.1,418.6 L1374.1,418.6Z"/><path d="M1408.3,411.5 L1415.8,424.0 L1400.8,424.0Z"/><path d="M1437.3,417.0 L1444.8,429.5 L1429.8,429.5Z"/><path d="M1469.0,423.7 L1476.5,436.2 L1461.5,436.2Z"/><path d="M1503.9,434.6 L1511.4,447.1 L1496.4,447.1Z"/><path d="M1542.3,445.7 L1549.8,458.2 L1534.8,458.2Z"/><path d="M1584.9,457.8 L1592.4,470.3 L1577.4,470.3Z"/><path d="M1632.5,468.9 L1640.0,481.4 L1625.0,481.4Z"/><path d="M1685.8,477.9 L1693.3,490.4 L1678.3,490.4Z"/></g><polyline points="991.5,131.9 995.1,79.8 998.8,58.3 1002.6,49.5 1006.6,53.5 1010.7,65.9 1014.9,87.6 1019.3,111.1 1023.8,130.9 1028.5,148.1 1033.4,165.2 1038.4,182.8 1043.6,201.5 1049.0,230.2 1054.7,262.2 1060.5,299.7 1066.6,334.5 1073.0,363.9 1079.6,386.3 1086.5,402.7 1093.7,411.4 1101.2,418.6 1109.1,421.1 1117.3,422.8 1126.0,425.2 1135.1,430.7 1144.6,435.7 1154.6,438.3 1165.2,439.5 1176.4,437.8 1188.2,435.4 1200.6,433.3 1213.8,432.3 1227.9,433.3 1242.8,435.4 1258.7,437.4 1275.7,437.9 1293.9,437.6 1313.4,437.0 1334.5,434.8 1357.1,435.2 1381.6,438.0 1408.3,443.4 1437.3,449.3 1469.0,455.2 1503.9,459.5 1542.3,463.5 1584.9,468.3 1632.5,474.9 1685.8,483.0" fill="none" stroke="#FF00FF" stroke-width="4.6" stroke-linejoin="round" stroke-linecap="butt"/><g fill="#FF00FF"><path d="M991.5,124.6 L993.2,129.5 L998.4,129.6 L994.3,132.8 L995.8,137.8 L991.5,134.9 L987.2,137.8 L988.6,132.8 L984.5,129.6 L989.7,129.5Z"/><path d="M995.1,72.5 L996.9,77.4 L1002.0,77.5 L997.9,80.7 L999.4,85.7 L995.1,82.8 L990.8,85.7 L992.2,80.7 L988.1,77.5 L993.3,77.4Z"/><path d="M998.8,51.0 L1000.6,55.9 L1005.7,56.1 L1001.7,59.3 L1003.1,64.2 L998.8,61.3 L994.5,64.2 L995.9,59.3 L991.9,56.1 L997.0,55.9Z"/><path d="M1002.6,42.2 L1004.4,47.1 L1009.6,47.2 L1005.5,50.4 L1006.9,55.4 L1002.6,52.5 L998.3,55.4 L999.8,50.4 L995.7,47.2 L1000.9,47.1Z"/><path d="M1006.6,46.2 L1008.4,51.0 L1013.5,51.2 L1009.4,54.4 L1010.9,59.4 L1006.6,56.5 L1002.3,59.4 L1003.7,54.4 L999.7,51.2 L1004.8,51.0Z"/><path d="M1010.7,58.6 L1012.5,63.5 L1017.6,63.6 L1013.5,66.8 L1015.0,71.8 L1010.7,68.9 L1006.4,71.8 L1007.8,66.8 L1003.7,63.6 L1008.9,63.5Z"/><path d="M1014.9,80.3 L1016.7,85.1 L1021.9,85.3 L1017.8,88.5 L1019.2,93.5 L1014.9,90.6 L1010.6,93.5 L1012.1,88.5 L1008.0,85.3 L1013.2,85.1Z"/><path d="M1019.3,103.8 L1021.1,108.7 L1026.2,108.8 L1022.1,112.0 L1023.6,117.0 L1019.3,114.1 L1015.0,117.0 L1016.4,112.0 L1012.3,108.8 L1017.5,108.7Z"/><path d="M1023.8,123.6 L1025.6,128.5 L1030.8,128.6 L1026.7,131.8 L1028.1,136.8 L1023.8,133.9 L1019.5,136.8 L1021.0,131.8 L1016.9,128.6 L1022.1,128.5Z"/><path d="M1028.5,140.8 L1030.3,145.7 L1035.4,145.9 L1031.4,149.1 L1032.8,154.0 L1028.5,151.1 L1024.2,154.0 L1025.6,149.1 L1021.6,145.9 L1026.7,145.7Z"/><path d="M1033.4,157.9 L1035.1,162.8 L1040.3,163.0 L1036.2,166.1 L1037.6,171.1 L1033.4,168.2 L1029.1,171.1 L1030.5,166.1 L1026.4,163.0 L1031.6,162.8Z"/><path d="M1038.4,175.5 L1040.2,180.3 L1045.3,180.5 L1041.2,183.7 L1042.7,188.7 L1038.4,185.8 L1034.1,188.7 L1035.5,183.7 L1031.4,180.5 L1036.6,180.3Z"/><path d="M1043.6,194.2 L1045.4,199.1 L1050.6,199.2 L1046.5,202.4 L1047.9,207.4 L1043.6,204.5 L1039.3,207.4 L1040.8,202.4 L1036.7,199.2 L1041.9,199.1Z"/><path d="M1049.0,222.9 L1050.8,227.8 L1056.0,228.0 L1051.9,231.2 L1053.3,236.1 L1049.0,233.2 L1044.7,236.1 L1046.2,231.2 L1042.1,228.0 L1047.3,227.8Z"/><path d="M1054.7,254.9 L1056.4,259.7 L1061.6,259.9 L1057.5,263.1 L1059.0,268.1 L1054.7,265.2 L1050.4,268.1 L1051.8,263.1 L1047.7,259.9 L1052.9,259.7Z"/><path d="M1060.5,292.4 L1062.3,297.3 L1067.5,297.4 L1063.4,300.6 L1064.8,305.6 L1060.5,302.7 L1056.2,305.6 L1057.7,300.6 L1053.6,297.4 L1058.8,297.3Z"/><path d="M1066.6,327.2 L1068.4,332.0 L1073.6,332.2 L1069.5,335.4 L1070.9,340.4 L1066.6,337.5 L1062.3,340.4 L1063.8,335.4 L1059.7,332.2 L1064.9,332.0Z"/><path d="M1073.0,356.6 L1074.7,361.5 L1079.9,361.7 L1075.8,364.8 L1077.3,369.8 L1073.0,366.9 L1068.7,369.8 L1070.1,364.8 L1066.0,361.7 L1071.2,361.5Z"/><path d="M1079.6,379.0 L1081.3,383.9 L1086.5,384.0 L1082.4,387.2 L1083.9,392.2 L1079.6,389.3 L1075.3,392.2 L1076.7,387.2 L1072.6,384.0 L1077.8,383.9Z"/><path d="M1086.5,395.4 L1088.2,400.3 L1093.4,400.5 L1089.3,403.6 L1090.8,408.6 L1086.5,405.7 L1082.2,408.6 L1083.6,403.6 L1079.5,400.5 L1084.7,400.3Z"/><path d="M1093.7,404.1 L1095.5,409.0 L1100.6,409.1 L1096.5,412.3 L1098.0,417.3 L1093.7,414.4 L1089.4,417.3 L1090.8,412.3 L1086.7,409.1 L1091.9,409.0Z"/><path d="M1101.2,411.3 L1103.0,416.2 L1108.2,416.3 L1104.1,419.5 L1105.5,424.5 L1101.2,421.6 L1096.9,424.5 L1098.4,419.5 L1094.3,416.3 L1099.5,416.2Z"/><path d="M1109.1,413.8 L1110.9,418.6 L1116.0,418.8 L1111.9,422.0 L1113.4,427.0 L1109.1,424.1 L1104.8,427.0 L1106.2,422.0 L1102.2,418.8 L1107.3,418.6Z"/><path d="M1117.3,415.5 L1119.1,420.3 L1124.3,420.5 L1120.2,423.7 L1121.6,428.7 L1117.3,425.8 L1113.1,428.7 L1114.5,423.7 L1110.4,420.5 L1115.6,420.3Z"/><path d="M1126.0,417.9 L1127.8,422.8 L1132.9,423.0 L1128.8,426.1 L1130.3,431.1 L1126.0,428.2 L1121.7,431.1 L1123.1,426.1 L1119.1,423.0 L1124.2,422.8Z"/><path d="M1135.1,423.4 L1136.8,428.2 L1142.0,428.4 L1137.9,431.6 L1139.4,436.6 L1135.1,433.7 L1130.8,436.6 L1132.2,431.6 L1128.1,428.4 L1133.3,428.2Z"/><path d="M1144.6,428.4 L1146.4,433.3 L1151.5,433.5 L1147.5,436.6 L1148.9,441.6 L1144.6,438.7 L1140.3,441.6 L1141.8,436.6 L1137.7,433.5 L1142.8,433.3Z"/><path d="M1154.6,431.0 L1156.4,435.8 L1161.6,436.0 L1157.5,439.2 L1158.9,444.2 L1154.6,441.3 L1150.4,444.2 L1151.8,439.2 L1147.7,436.0 L1152.9,435.8Z"/><path d="M1165.2,432.2 L1167.0,437.1 L1172.2,437.2 L1168.1,440.4 L1169.5,445.4 L1165.2,442.5 L1160.9,445.4 L1162.4,440.4 L1158.3,437.2 L1163.5,437.1Z"/><path d="M1176.4,430.5 L1178.1,435.3 L1183.3,435.5 L1179.2,438.7 L1180.7,443.7 L1176.4,440.8 L1172.1,443.7 L1173.5,438.7 L1169.4,435.5 L1174.6,435.3Z"/><path d="M1188.2,428.1 L1189.9,432.9 L1195.1,433.1 L1191.0,436.3 L1192.4,441.3 L1188.2,438.4 L1183.9,441.3 L1185.3,436.3 L1181.2,433.1 L1186.4,432.9Z"/><path d="M1200.6,426.0 L1202.4,430.9 L1207.6,431.1 L1203.5,434.2 L1204.9,439.2 L1200.6,436.3 L1196.3,439.2 L1197.8,434.2 L1193.7,431.1 L1198.9,430.9Z"/><path d="M1213.8,425.0 L1215.6,429.9 L1220.8,430.0 L1216.7,433.2 L1218.1,438.2 L1213.8,435.3 L1209.5,438.2 L1211.0,433.2 L1206.9,430.0 L1212.1,429.9Z"/><path d="M1227.9,426.0 L1229.6,430.9 L1234.8,431.1 L1230.7,434.2 L1232.2,439.2 L1227.9,436.3 L1223.6,439.2 L1225.0,434.2 L1220.9,431.1 L1226.1,430.9Z"/><path d="M1242.8,428.1 L1244.6,433.0 L1249.7,433.2 L1245.7,436.3 L1247.1,441.3 L1242.8,438.4 L1238.5,441.3 L1240.0,436.3 L1235.9,433.2 L1241.0,433.0Z"/><path d="M1258.7,430.1 L1260.5,435.0 L1265.7,435.1 L1261.6,438.3 L1263.0,443.3 L1258.7,440.4 L1254.4,443.3 L1255.9,438.3 L1251.8,435.1 L1257.0,435.0Z"/><path d="M1275.7,430.6 L1277.5,435.5 L1282.7,435.6 L1278.6,438.8 L1280.0,443.8 L1275.7,440.9 L1271.4,443.8 L1272.9,438.8 L1268.8,435.6 L1274.0,435.5Z"/><path d="M1293.9,430.3 L1295.7,435.2 L1300.9,435.3 L1296.8,438.5 L1298.2,443.5 L1293.9,440.6 L1289.6,443.5 L1291.1,438.5 L1287.0,435.3 L1292.2,435.2Z"/><path d="M1313.4,429.7 L1315.2,434.6 L1320.4,434.7 L1316.3,437.9 L1317.7,442.9 L1313.4,440.0 L1309.2,442.9 L1310.6,437.9 L1306.5,434.7 L1311.7,434.6Z"/><path d="M1334.5,427.5 L1336.2,432.4 L1341.4,432.5 L1337.3,435.7 L1338.7,440.7 L1334.5,437.8 L1330.2,440.7 L1331.6,435.7 L1327.5,432.5 L1332.7,432.4Z"/><path d="M1357.1,427.9 L1358.9,432.8 L1364.1,433.0 L1360.0,436.1 L1361.4,441.1 L1357.1,438.2 L1352.8,441.1 L1354.3,436.1 L1350.2,433.0 L1355.4,432.8Z"/><path d="M1381.6,430.7 L1383.4,435.6 L1388.6,435.7 L1384.5,438.9 L1385.9,443.9 L1381.6,441.0 L1377.4,443.9 L1378.8,438.9 L1374.7,435.7 L1379.9,435.6Z"/><path d="M1408.3,436.1 L1410.0,441.0 L1415.2,441.2 L1411.1,444.3 L1412.6,449.3 L1408.3,446.4 L1404.0,449.3 L1405.4,444.3 L1401.3,441.2 L1406.5,441.0Z"/><path d="M1437.3,442.0 L1439.0,446.8 L1444.2,447.0 L1440.1,450.2 L1441.6,455.2 L1437.3,452.3 L1433.0,455.2 L1434.4,450.2 L1430.3,447.0 L1435.5,446.8Z"/><path d="M1469.0,447.9 L1470.8,452.7 L1476.0,452.9 L1471.9,456.1 L1473.3,461.1 L1469.0,458.2 L1464.7,461.1 L1466.2,456.1 L1462.1,452.9 L1467.2,452.7Z"/><path d="M1503.9,452.2 L1505.6,457.1 L1510.8,457.2 L1506.7,460.4 L1508.1,465.4 L1503.9,462.5 L1499.6,465.4 L1501.0,460.4 L1496.9,457.2 L1502.1,457.1Z"/><path d="M1542.3,456.2 L1544.1,461.1 L1549.2,461.2 L1545.1,464.4 L1546.6,469.4 L1542.3,466.5 L1538.0,469.4 L1539.4,464.4 L1535.4,461.2 L1540.5,461.1Z"/><path d="M1584.9,461.0 L1586.7,465.9 L1591.9,466.0 L1587.8,469.2 L1589.2,474.2 L1584.9,471.3 L1580.6,474.2 L1582.1,469.2 L1578.0,466.0 L1583.2,465.9Z"/><path d="M1632.5,467.6 L1634.2,472.5 L1639.4,472.7 L1635.3,475.8 L1636.8,480.8 L1632.5,477.9 L1628.2,480.8 L1629.6,475.8 L1625.5,472.7 L1630.7,472.5Z"/><path d="M1685.8,475.7 L1687.6,480.5 L1692.8,480.7 L1688.7,483.9 L1690.1,488.9 L1685.8,486.0 L1681.5,488.9 L1683.0,483.9 L1678.9,480.7 L1684.1,480.5Z"/></g></g>
<line x1="172.1" y1="32.8" x2="230.4" y2="32.8" stroke="#000000" stroke-width="6.6"/>
<g fill="#000000"><circle cx="201.0" cy="32.8" r="6.3"/></g>
<text transform="translate(238.67,41.90) scale(0.9680,1)" font-family="'Liberation Serif','Times New Roman',serif" font-weight="bold" font-size="34.5" fill="#000" text-anchor="start">Au 1 nm</text>
<line x1="172.1" y1="74.5" x2="230.4" y2="74.5" stroke="#FF0000" stroke-width="6.6"/>
<g fill="#FF0000"><rect x="195.0" y="68.5" width="12.0" height="12.0"/></g>
<text transform="translate(238.67,83.10) scale(0.9680,1)" font-family="'Liberation Serif','Times New Roman',serif" font-weight="bold" font-size="34.5" fill="#000" text-anchor="start">Au@graphite 0.2 nm</text>
<line x1="172.1" y1="113.0" x2="230.4" y2="113.0" stroke="#0000FF" stroke-width="6.6"/>
<g fill="#0000FF"><path d="M201.0,103.7 L208.5,117.7 L193.5,117.7Z"/></g>
<text transform="translate(239.29,121.80) scale(0.9510,1)" font-family="'Liberation Serif','Times New Roman',serif" font-weight="bold" font-size="32.1" fill="#000" text-anchor="start">Au@graphite 0.5nm</text>
<line x1="172.1" y1="151.1" x2="230.4" y2="151.1" stroke="#FF00FF" stroke-width="6.6"/>
<g fill="#FF00FF"><path d="M201.0,143.1 L203.0,148.3 L208.6,148.6 L204.2,152.2 L205.7,157.6 L201.0,154.5 L196.3,157.6 L197.8,152.2 L193.4,148.6 L199.0,148.3Z"/></g>
<text transform="translate(239.30,159.60) scale(0.9490,1)" font-family="'Liberation Serif','Times New Roman',serif" font-weight="bold" font-size="32.1" fill="#000" text-anchor="start">Au@graphite 1nm</text>
<line x1="1281.1" y1="34.8" x2="1346.8" y2="34.8" stroke="#000000" stroke-width="4.2"/>
<g fill="#000000"><circle cx="1313.9" cy="34.8" r="5.9"/></g>
<text transform="translate(1356.15,44.40) scale(0.9540,1)" font-family="'Liberation Serif','Times New Roman',serif" font-weight="bold" font-size="36.5" fill="#000" text-anchor="start">Ag@graphite</text>
<line x1="1281.1" y1="78.0" x2="1346.8" y2="78.0" stroke="#FF0000" stroke-width="4.2"/>
<g fill="#FF0000"><rect x="1308.6" y="72.7" width="10.6" height="10.6"/></g>
<text transform="translate(1356.15,87.60) scale(0.9540,1)" font-family="'Liberation Serif','Times New Roman',serif" font-weight="bold" font-size="36.5" fill="#000" text-anchor="start">Ag@graphite 1 nm</text>
<line x1="1281.1" y1="121.2" x2="1346.8" y2="121.2" stroke="#0000FF" stroke-width="4.2"/>
<g fill="#0000FF"><path d="M1313.9,112.9 L1321.4,125.4 L1306.4,125.4Z"/></g>
<text transform="translate(1356.15,130.80) scale(0.9540,1)" font-family="'Liberation Serif','Times New Roman',serif" font-weight="bold" font-size="36.5" fill="#000" text-anchor="start">Ag@graphite 2 nm</text>
<line x1="1281.1" y1="164.4" x2="1346.8" y2="164.4" stroke="#FF00FF" stroke-width="4.2"/>
<g fill="#FF00FF"><path d="M1313.9,157.1 L1315.7,162.0 L1320.8,162.1 L1316.8,165.3 L1318.2,170.3 L1313.9,167.4 L1309.6,170.3 L1311.0,165.3 L1307.0,162.1 L1312.1,162.0Z"/></g>
<text transform="translate(1356.15,174.00) scale(0.9540,1)" font-family="'Liberation Serif','Times New Roman',serif" font-weight="bold" font-size="36.5" fill="#000" text-anchor="start">Ag @ graphite 3 nm</text>
<text transform="translate(96.12,575.60)" font-family="'Liberation Serif','Times New Roman',serif" font-weight="bold" font-size="32.2" fill="#000" text-anchor="end">0.0</text>
<text transform="translate(977.47,528.50)" font-family="'Liberation Serif','Times New Roman',serif" font-weight="bold" font-size="38.7" fill="#000" text-anchor="end">0.0</text>
<text transform="translate(96.12,475.60)" font-family="'Liberation Serif','Times New Roman',serif" font-weight="bold" font-size="32.2" fill="#000" text-anchor="end">0.2</text>
<text transform="translate(977.47,435.00)" font-family="'Liberation Serif','Times New Roman',serif" font-weight="bold" font-size="38.7" fill="#000" text-anchor="end">0.2</text>
<text transform="translate(96.12,375.60)" font-family="'Liberation Serif','Times New Roman',serif" font-weight="bold" font-size="32.2" fill="#000" text-anchor="end">0.4</text>
<text transform="translate(977.47,341.50)" font-family="'Liberation Serif','Times New Roman',serif" font-weight="bold" font-size="38.7" fill="#000" text-anchor="end">0.4</text>
<text transform="translate(96.12,275.60)" font-family="'Liberation Serif','Times New Roman',serif" font-weight="bold" font-size="32.2" fill="#000" text-anchor="end">0.6</text>
<text transform="translate(977.47,248.00)" font-family="'Liberation Serif','Times New Roman',serif" font-weight="bold" font-size="38.7" fill="#000" text-anchor="end">0.6</text>
<text transform="translate(96.12,175.60)" font-family="'Liberation Serif','Times New Roman',serif" font-weight="bold" font-size="32.2" fill="#000" text-anchor="end">0.8</text>
<text transform="translate(977.47,154.50)" font-family="'Liberation Serif','Times New Roman',serif" font-weight="bold" font-size="38.7" fill="#000" text-anchor="end">0.8</text>
<text transform="translate(96.12,75.60)" font-family="'Liberation Serif','Times New Roman',serif" font-weight="bold" font-size="32.2" fill="#000" text-anchor="end">1.0</text>
<text transform="translate(977.47,61.00)" font-family="'Liberation Serif','Times New Roman',serif" font-weight="bold" font-size="38.7" fill="#000" text-anchor="end">1.0</text>
<text transform="translate(110.00,606.00)" font-family="'Liberation Serif','Times New Roman',serif" font-weight="bold" font-size="32.2" fill="#000" text-anchor="middle">200</text>
<text transform="translate(991.50,608.70)" font-family="'Liberation Serif','Times New Roman',serif" font-weight="bold" font-size="38.7" fill="#000" text-anchor="middle">200</text>
<text transform="translate(222.80,606.00)" font-family="'Liberation Serif','Times New Roman',serif" font-weight="bold" font-size="32.2" fill="#000" text-anchor="middle">300</text>
<text transform="translate(1107.40,608.70)" font-family="'Liberation Serif','Times New Roman',serif" font-weight="bold" font-size="38.7" fill="#000" text-anchor="middle">300</text>
<text transform="translate(335.60,606.00)" font-family="'Liberation Serif','Times New Roman',serif" font-weight="bold" font-size="32.2" fill="#000" text-anchor="middle">400</text>
<text transform="translate(1223.30,608.70)" font-family="'Liberation Serif','Times New Roman',serif" font-weight="bold" font-size="38.7" fill="#000" text-anchor="middle">400</text>
<text transform="translate(448.40,606.00)" font-family="'Liberation Serif','Times New Roman',serif" font-weight="bold" font-size="32.2" fill="#000" text-anchor="middle">500</text>
<text transform="translate(1339.20,608.70)" font-family="'Liberation Serif','Times New Roman',serif" font-weight="bold" font-size="38.7" fill="#000" text-anchor="middle">500</text>
<text transform="translate(561.20,606.00)" font-family="'Liberation Serif','Times New Roman',serif" font-weight="bold" font-size="32.2" fill="#000" text-anchor="middle">600</text>
<text transform="translate(1455.10,608.70)" font-family="'Liberation Serif','Times New Roman',serif" font-weight="bold" font-size="38.7" fill="#000" text-anchor="middle">600</text>
<text transform="translate(674.00,606.00)" font-family="'Liberation Serif','Times New Roman',serif" font-weight="bold" font-size="32.2" fill="#000" text-anchor="middle">700</text>
<text transform="translate(1571.00,608.70)" font-family="'Liberation Serif','Times New Roman',serif" font-weight="bold" font-size="38.7" fill="#000" text-anchor="middle">700</text>
<text transform="translate(786.80,606.00)" font-family="'Liberation Serif','Times New Roman',serif" font-weight="bold" font-size="32.2" fill="#000" text-anchor="middle">800</text>
<text transform="translate(1686.90,608.70)" font-family="'Liberation Serif','Times New Roman',serif" font-weight="bold" font-size="38.7" fill="#000" text-anchor="middle">800</text>
<text transform="translate(292.48,670.40) scale(0.9370,1)" font-family="'Liberation Serif','Times New Roman',serif" font-weight="bold" font-size="45.2" fill="#000" text-anchor="start">Wavelength (nm)</text>
<text transform="translate(1172.85,670.00) scale(0.9620,1)" font-family="'Liberation Serif','Times New Roman',serif" font-weight="bold" font-size="47" fill="#000" text-anchor="start">Wavelength (nm)</text>
<text transform="translate(31.80,590.80) rotate(-90) scale(0.9520,1)" font-family="'Liberation Serif','Times New Roman',serif" font-weight="bold" font-size="47.2" fill="#000" text-anchor="start">Normalized absorption (a.u)</text>
<text transform="translate(904.30,560.81) rotate(-90) scale(0.9290,1)" font-family="'Liberation Serif','Times New Roman',serif" font-weight="bold" font-size="49.2" fill="#000" text-anchor="start">Normalized absorption (a.u)</text>
</svg></body></html>
